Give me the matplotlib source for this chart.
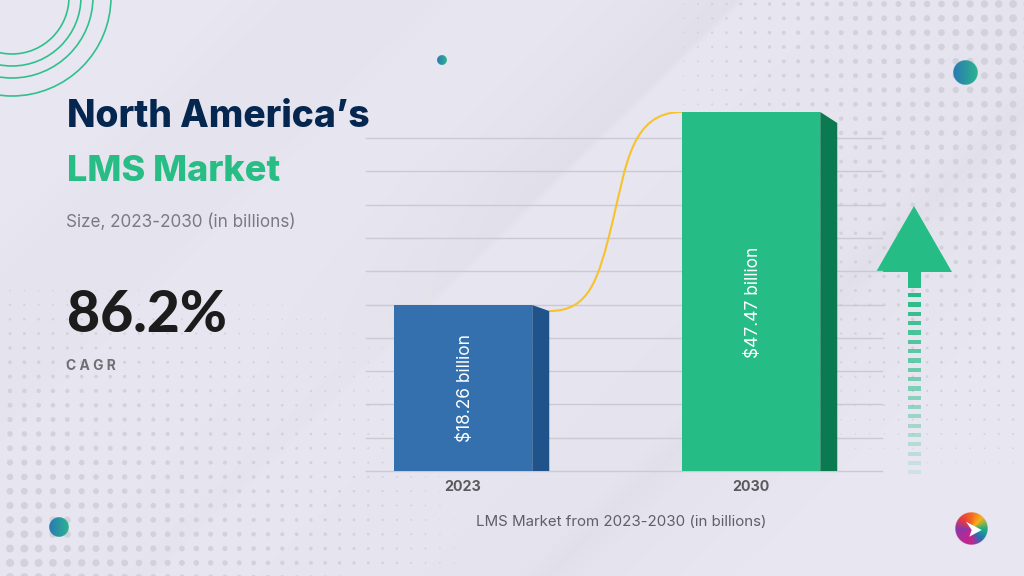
import numpy as np
import matplotlib
matplotlib.use("Agg")
import matplotlib.pyplot as plt
from matplotlib.patches import Circle, Polygon, PathPatch, Rectangle
from matplotlib.path import Path
from matplotlib.transforms import IdentityTransform
from matplotlib.colors import LinearSegmentedColormap

FONT = ["Inter", "Lato", "DejaVu Sans"]
plt.rcParams["font.family"] = FONT

years = ["2023", "2030"]
market_values = [18.26, 47.47]
value_labels = ["$18.26 billion", "$47.47 billion"]
bar_colors = ["#3570AE", "#26BC85"]
side_colors = ["#1F538A", "#0B7A50"]

W, H = 1024, 576
fig = plt.figure(figsize=(W / 100, H / 100), dpi=100)

# Canvas axes in pixel units for the backdrop and decoration
bg = fig.add_axes([0, 0, 1, 1])
bg.set_xlim(0, W)
bg.set_ylim(H, 0)
bg.axis("off")

# Soft diagonal shading; the central streak fades towards the bottom
yy, xx = np.mgrid[0:H, 0:W]
d = xx + yy * 1.02
streak = np.interp(d, [560, 640, 735, 745], [0, 0.01, 0.028, 0]) * np.interp(yy, [180, 360], [1, 0.25])
other = np.interp(
    d,
    [0, 230, 300, 420, 470, 900, 1100, 1135, 1170, 1320, 1600],
    [0, 0, 0.012, 0.012, 0, 0.005, 0.012, 0.028, 0.012, 0, 0],
)
shade = 1 - streak - other
base = np.array([232, 231, 241]) / 255
bg.imshow(np.clip(shade[..., None] * base, 0, 1), extent=(0, W, H, 0), aspect="auto", zorder=0)

# Halftone dot fields
step = 14.33
gx, gy = np.meshgrid(10 + step * np.arange(72), 4 + step * np.arange(41))
gx, gy = gx.ravel(), gy.ravel()
left = np.clip((gy - 262) / 300, 0, 1) ** 0.7 * np.clip((500 - gx) / 480, 0, 1) ** 0.8
right = np.clip((gx - 650) / 370, 0, 1) ** 0.7 * np.clip((500 - gy) / 460, 0, 1) ** 0.7
radius = np.maximum(left * 3.0, right * 2.9)
mask = radius > 0.4
bg.scatter(gx[mask], gy[mask], s=(radius[mask] * 1.39) ** 2 * 2, color="#d3d2dc",
           linewidths=0, zorder=1)

# Concentric rings in the corner
for r in [57, 69, 81, 99]:
    bg.add_patch(Circle((12, -3), r, fill=False, ec="#2FC08C", lw=1.2, zorder=2))


def disc_image(cx, cy, r, colors):
    """Paint a smooth-edged round image from an (n, n, 3) colour array."""
    n = colors.shape[0]
    v, u = np.mgrid[-1:1:n * 1j, -1:1:n * 1j]
    dist = np.hypot(u, v)
    alpha = np.clip((1 - dist) * n / 3, 0, 1)
    rgba = np.dstack([colors, alpha])
    bg.imshow(rgba, extent=(cx - r, cx + r, cy + r, cy - r), aspect="auto", zorder=3,
              interpolation="antialiased", interpolation_stage="rgba")


# Gradient-filled discs
teal = LinearSegmentedColormap.from_list("teal", ["#2A78B4", "#2BB58E"])
ramp = teal(np.tile(np.linspace(0, 1, 128), (128, 1)))[..., :3]
for cx, cy, r in [(441.5, 60.5, 5), (965.5, 72.5, 12.5), (59, 527, 10)]:
    disc_image(cx, cy, r, ramp)

# Logo: colour wheel with a white pointer
wheel = LinearSegmentedColormap.from_list(
    "wheel",
    ["#1FAF7E", "#F9B21B", "#F4691F", "#E93A3F", "#8A38A6", "#B42A98", "#C4238C", "#2472B5", "#1FAF7E"],
)
lx, ly, lr = 971.5, 529, 16.5
v_g, u_g = np.mgrid[-1:1:128j, -1:1:128j]
angle = (np.arctan2(-v_g, u_g) / (2 * np.pi)) % 1
disc_image(lx, ly, lr, wheel(angle)[..., :3])
bg.add_patch(Polygon([(966, 521.7), (981.7, 530), (969.3, 536.7), (971.7, 530)], fc="white", ec="none", zorder=4))

# Growth arrow with fading dashes
arrow_green = "#26BC85"
bg.add_patch(Polygon([(914, 206), (952, 272), (876, 272)], fc=arrow_green, ec="none", zorder=3))
bg.add_patch(Rectangle((907.5, 271), 13.5, 17, fc=arrow_green, ec="none", zorder=3))
for i, alpha in enumerate(np.linspace(1, 0.12, 20)):
    bg.add_patch(Rectangle((908, 293 + i * 9.33), 12.5, 4.2, fc=arrow_green, ec="none",
                           alpha=float(alpha), zorder=3))

# Chart axes: the hidden value axis uses a power scale
ax_left, ax_right, ax_top, ax_bottom = 366, 882, 112, 471
ax = fig.add_axes([ax_left / W, 1 - ax_bottom / H, (ax_right - ax_left) / W, (ax_bottom - ax_top) / H])
ax.patch.set_alpha(0)
power = 0.8075
ax.set_yscale("function", functions=(lambda v: np.power(np.maximum(v, 0), power),
                                     lambda v: np.power(np.maximum(v, 0), 1 / power)))
ax.set_ylim(0, max(market_values))
centre_gap = 288
ax.set_xlim((ax_left - 463) / centre_gap, (ax_right - 463) / centre_gap)
ax.axis("off")

# Rule lines, evenly spaced in axes height
for k in range(11):
    ax.plot([0, 1], [k * 33.3 / (ax_bottom - ax_top)] * 2, transform=ax.transAxes,
            color="#CBCAD3", lw=1.0, zorder=1, clip_on=False)

positions = np.arange(len(years))
bar_w = 138.5 / centre_gap
ax.bar(positions, market_values, width=bar_w, color=bar_colors, zorder=3)

fig.canvas.draw()
depth_x, depth_y = 17, 11

# Right-hand faces of the blocks
corners = []
for i, (p, v) in enumerate(zip(positions, market_values)):
    xr, yt = ax.transData.transform((p + bar_w / 2, v))
    _, yb = ax.transData.transform((p, 0))
    dy = 6 if i == 0 else depth_y
    ax.add_patch(Polygon([(xr, yt), (xr + depth_x, yt - dy), (xr + depth_x, yb), (xr, yb)],
                         transform=IdentityTransform(), fc=side_colors[i], ec="none", zorder=3))
    corners.append((xr + depth_x, yt - dy))

# Connector running from the low block to the top of the tall block
x0, y0 = corners[0]
x1, y1 = ax.transData.transform((positions[1] - bar_w / 2, market_values[1]))
ctrl = [(0.30, 0.0), (0.37, 0.15), (0.48, 0.455), (0.58, 0.73), (0.62, 1.0), (1.0, 1.0)]
verts = [(x0, y0)] + [(x0 + fx * (x1 - x0), y0 + fy * (y1 - y0)) for fx, fy in ctrl]
ax.add_patch(PathPatch(Path(verts, [Path.MOVETO] + [Path.CURVE4] * 6), fc="none", ec="#F6C22D",
                       lw=1.5, transform=IdentityTransform(), zorder=2))

# Value labels inside the blocks
label_px = [387.5, 302]
for p, text_, y_px in zip(positions, value_labels, label_px):
    ax.text(p + 2 / centre_gap, (ax_bottom - y_px) / (ax_bottom - ax_top), text_, rotation=90, color="white",
            fontsize=12.5, ha="center", va="center", zorder=6, transform=ax.get_xaxis_transform())

# Category labels and caption
for p, yr in zip(positions, years):
    bg.text(463 + p * centre_gap, 487, yr, color="#5A5A5E", fontsize=10.3, fontweight="bold",
            ha="center", va="center", zorder=6)
bg.text(621.5, 522, "LMS Market from 2023-2030 (in billions)", color="#5F5F68", fontsize=10.85,
        ha="center", va="center", zorder=6)

# Headline block
bg.text(67, 127, "North America\u2019s", color="#04264F", fontsize=26.8, fontweight=800, va="baseline", zorder=6)
bg.text(67, 181, "LMS Market", color="#27BD85", fontsize=26, fontweight=800, va="baseline", zorder=6)
bg.text(66, 227, "Size, 2023-2030 (in billions)", color="#7A7A82", fontsize=12.3, va="baseline", zorder=6)
bg.text(67, 332, "86.2%", color="#1C1C1C", fontsize=41, fontweight=900, family=["Lato", "DejaVu Sans"], va="baseline", zorder=6)
bg.text(66, 370, "C A G R", color="#6E6E74", fontsize=10, fontweight="bold", va="baseline", zorder=6)

fig.savefig("out.png", dpi=100)
